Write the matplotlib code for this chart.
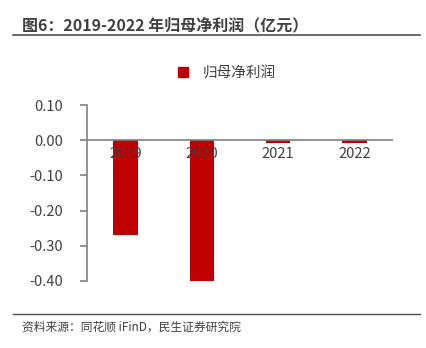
import numpy as np
import matplotlib.pyplot as plt
from matplotlib.lines import Line2D

plt.rcParams['font.family'] = ['Noto Sans CJK SC', 'DejaVu Sans']

years = ['2019', '2020', '2021', '2022']
profit = [-0.27, -0.40, -0.007, -0.007]
yticks = [0.10, 0.00, -0.10, -0.20, -0.30, -0.40]

fig = plt.figure(figsize=(4.27, 3.48), dpi=100)
ax = fig.add_axes([0.204, 0.193, 0.716, 0.505])

x = np.arange(len(years))
ax.bar(x, profit, width=0.32, color='#C00000', zorder=2)
ax.axhline(0, color='#808080', lw=1.2, zorder=3)

ax.set_xlim(-0.5, 3.5)
ax.set_ylim(-0.40, 0.10)
ax.set_yticks(yticks)
ax.set_yticklabels([f'{v:.2f}' for v in yticks], fontsize=10.5, color='#404040')
ax.set_xticks([])
for xi, lab in zip(x, years):
    ax.text(xi, -0.018, lab, ha='center', va='top', fontsize=10.5, color='#404040', zorder=4)

for s in ['top', 'right', 'bottom']:
    ax.spines[s].set_visible(False)
ax.spines['left'].set_color('#808080')
ax.spines['left'].set_linewidth(1.2)
ax.tick_params(axis='y', length=5, color='#808080', width=1.2, pad=12)

handle = Line2D([], [], marker='s', color='#C00000', ls='', markersize=7)
fig.legend([handle], ['归母净利润'], loc='center', bbox_to_anchor=(0.52, 0.79),
           frameon=False, fontsize=10.5, handletextpad=0.3, labelcolor='#404040')

fig.text(0.052, 0.928, '图6：2019-2022 年归母净利润（亿元）', fontsize=11.5, fontweight='bold',
         color='#404040', va='center', ha='left')
fig.add_artist(Line2D([0.03, 0.984], [0.899, 0.899], color='#505050', lw=1.2))
fig.add_artist(Line2D([0.03, 0.984], [0.098, 0.098], color='#505050', lw=1.0))
fig.text(0.052, 0.06, '资料来源：同花顺 iFinD，民生证券研究院', fontsize=8.5,
         color='#404040', va='center', ha='left')

fig.savefig('out.png', dpi=100)
